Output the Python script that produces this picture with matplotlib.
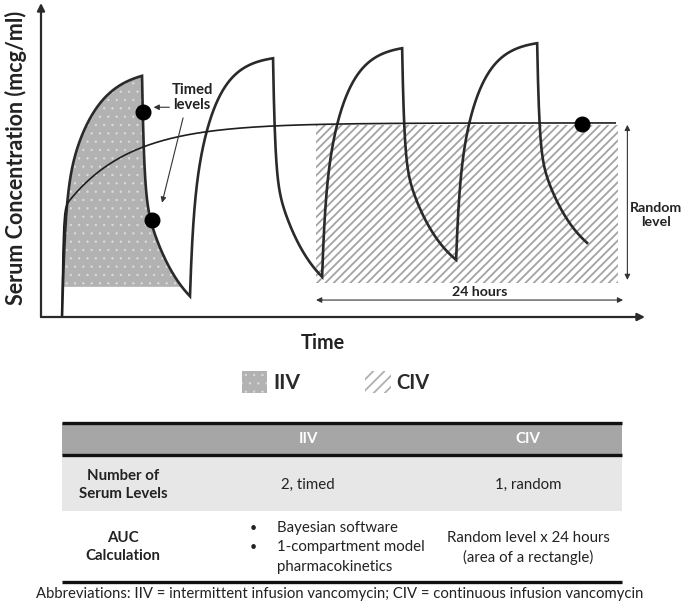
import numpy as np
import matplotlib
matplotlib.use("Agg")
import matplotlib.pyplot as plt
from matplotlib.patches import Rectangle

plt.rcParams['font.family'] = ['Lato', 'DejaVu Sans']

# ---------------- data (hours, mcg/ml) ----------------
dose_start = [1.67, 11.84, 22.34, 32.99]     # infusion start
dose_end = [8.03, 18.44, 28.70, 39.43]       # infusion end (peak)
start_levels = [0.0, 3.3, 6.4, 9.1]          # level at infusion start
peaks = [38.4, 41.2, 42.8, 43.6]             # peak levels
troughs = [3.3, 6.4, 9.1, 11.8]              # level at end of each interval
curve_end = 43.40
rise_fast_frac = [0.45, 0.3, 0.3, 0.3]       # shape of the infusion phase
rise_slow_rate = [0.45, 0.6, 0.6, 0.6]
civ_start = 1.67
civ_steady = 30.9
civ_curve_end = 45.63
timed_t = [8.10, 8.82]
timed_c = [32.6, 15.4]
random_t = [43.0]
random_c = [30.8]
civ_window = [21.86, 24.0]   # start, duration (hours)
civ_level = 30.6
iiv_floor = 4.8
civ_floor = 5.4

legend_labels = ["IIV", "CIV"]
table_header = ["", "IIV", "CIV"]
row_labels = ["Number of\nSerum Levels", "AUC\nCalculation"]
iiv_col = ["2, timed", ["Bayesian software", "1-compartment model\npharmacokinetics"]]
civ_col = ["1, random", "Random level x 24 hours\n(area of a rectangle)"]
footnote = ("Abbreviations: IIV = intermittent infusion vancomycin; "
            "CIV = continuous infusion vancomycin")

# ---------------- figure ----------------
W, H = 685, 605
fig = plt.figure(figsize=(W / 100, H / 100), dpi=100)
ov = fig.add_axes([0, 0, 1, 1], zorder=0)
ov.set_xlim(0, W)
ov.set_ylim(H, 0)
ov.axis('off')

ax = fig.add_axes([41 / W, 1 - 317 / H, 604 / W, 314 / H], zorder=1)
ax.set_xlim(0, 48)
ax.set_ylim(0, 50)
ax.patch.set_alpha(0)
for s in ax.spines.values():
    s.set_visible(False)
ax.set_xticks([])
ax.set_yticks([])

dark = '#2a2a2a'
txt = '#222222'


def rise(dt, T, f, b):
    g = lambda x: 1 - f * np.exp(-4 * x) - (1 - f) * np.exp(-b * x)
    return g(dt) / g(T)


def decay(dt, T):
    g = lambda x: 0.45 * np.exp(-6 * x) + 0.55 * np.exp(-0.35 * x)
    return (g(dt) - g(T)) / (1 - g(T))


ts_all, cs_all = [], []
next_starts = dose_start[1:] + [curve_end]
for i in range(len(dose_start)):
    T1 = dose_end[i] - dose_start[i]
    t1 = np.linspace(0, T1, 300)
    c1 = start_levels[i] + (peaks[i] - start_levels[i]) * rise(
        t1, T1, rise_fast_frac[i], rise_slow_rate[i])
    T2 = next_starts[i] - dose_end[i]
    t2 = np.linspace(0, T2, 300)
    c2 = troughs[i] + (peaks[i] - troughs[i]) * decay(t2, T2)
    ts_all += [dose_start[i] + t1, dose_end[i] + t2]
    cs_all += [c1, c2]
t_iiv = np.concatenate([[dose_start[0]]] + ts_all)
c_iiv = np.concatenate([[0.0]] + cs_all)

# IIV shaded area under first dose (fine white dots on grey)
plt.rcParams['hatch.linewidth'] = 0.4
first = t_iiv <= dose_start[1]
ax.fill_between(t_iiv[first], iiv_floor, c_iiv[first],
                where=c_iiv[first] >= iiv_floor, interpolate=True,
                facecolor='#b2b2b2', edgecolor='#dedede', hatch='..',
                linewidth=0, zorder=1)
leg_iiv = Rectangle((242, 371), 25, 22, facecolor='#b2b2b2',
                    edgecolor='#dedede', hatch='..', linewidth=0)
ov.add_patch(leg_iiv)

# CIV rectangle
plt.rcParams['hatch.linewidth'] = 1.3
ax.bar([civ_window[0]], [civ_level - civ_floor], width=civ_window[1],
       bottom=civ_floor, align='edge', facecolor='white',
       edgecolor='#a3a3a3', hatch='////', linewidth=0, zorder=1)
leg_civ = Rectangle((365, 371), 26, 22, facecolor='white',
                    edgecolor='#b0b0b0', hatch='///', linewidth=0)
ov.add_patch(leg_civ)

ax.plot(t_iiv, c_iiv, color=dark, lw=1.9, zorder=3, solid_joinstyle='miter')

t_civ = np.linspace(civ_start, civ_curve_end, 600)
dt = t_civ - civ_start
c_civ = civ_steady * (1 - 0.55 * np.exp(-12 * dt) - 0.45 * np.exp(-0.2 * dt))
ax.plot(t_civ, c_civ, color='#1e1e1e', lw=1.2, zorder=3)

ax.plot(timed_t, timed_c, 'o', color='black', ms=10.5, zorder=5)
ax.plot(random_t, random_c, 'o', color='black', ms=10.5, zorder=5)

# axes arrows
ap_axis = dict(arrowstyle='-|>', lw=1.6, color=dark, mutation_scale=11,
               shrinkA=0, shrinkB=0)
ax.annotate('', xy=(0, 50), xytext=(0, 0), arrowprops=ap_axis,
            annotation_clip=False)
ax.annotate('', xy=(48, 0), xytext=(0, 0), arrowprops=ap_axis,
            annotation_clip=False)

# annotations
ap_thin = dict(arrowstyle='-|>', lw=0.8, color='#333333', mutation_scale=8,
               shrinkA=0, shrinkB=0)
ax.text(12.0, 34.9, "Timed\nlevels", ha='center', va='center', fontsize=10.6,
        fontweight='bold', color=txt, linespacing=1.1)
ax.annotate('', xy=(8.95, 33.4), xytext=(10.2, 33.4), arrowprops=ap_thin)
ax.annotate('', xy=(9.62, 18.2), xytext=(11.29, 31.7), arrowprops=ap_thin)

ap_dbl = dict(arrowstyle='<|-|>', lw=0.8, color='#333333', mutation_scale=8,
              shrinkA=0, shrinkB=0)
ax.annotate('', xy=(civ_window[0] + civ_window[1] + 0.4, 2.7),
            xytext=(civ_window[0], 2.7), arrowprops=ap_dbl,
            annotation_clip=False)
ax.text(civ_window[0] + civ_window[1] / 2 + 1.0, 4.0, "24 hours",
        ha='center', va='center', fontsize=10.2, fontweight='bold',
        color=txt)
ax.annotate('', xy=(46.6, civ_level), xytext=(46.6, civ_floor + 0.5),
            arrowprops=ap_dbl, annotation_clip=False)
ax.text(48.9, 16.2, "Random\nlevel", ha='center', va='center', fontsize=10.2,
        fontweight='bold', color=txt, linespacing=1.2, clip_on=False)

# axis labels
ov.text(16, 158, "Serum Concentration (mcg/ml)", rotation=90, ha='center',
        va='center', fontsize=15.5, fontweight='bold', color=txt)
ov.text(323, 343, "Time", ha='center', va='center', fontsize=14.3,
        fontweight='bold', color=txt)

# legend text
ov.text(273, 383, legend_labels[0], ha='left', va='center', fontsize=15,
        fontweight='bold', color='#2a2a2a')
ov.text(396, 383, legend_labels[1], ha='left', va='center', fontsize=14.5,
        fontweight='bold', color='#2a2a2a')

# table
tx0, tx1 = 62, 622
col_c = [123, 308, 528]
fs = 10.8
ov.add_patch(Rectangle((tx0, 423), tx1 - tx0, 455 - 423, facecolor='#a6a6a6',
                       edgecolor='none'))
ov.add_patch(Rectangle((tx0, 455), tx1 - tx0, 511 - 455, facecolor='#e7e7e7',
                       edgecolor='none'))
for y in (423, 455, 582):
    ov.plot([tx0, tx1], [y, y], color='#111111', lw=2.4,
            solid_capstyle='butt')
for i, h in enumerate(table_header):
    if h:
        ov.text(col_c[i], 439, h, ha='center', va='center', fontsize=fs,
                fontweight='bold', color='white')
row_y = [485, 547]
for r in range(2):
    ov.text(col_c[0], row_y[r], row_labels[r], ha='center', va='center',
            fontsize=fs, fontweight='bold', color=txt, linespacing=1.3)
ov.text(col_c[1], row_y[0], iiv_col[0], ha='center', va='center',
        fontsize=fs, color=txt)
ov.text(col_c[2], row_y[0], civ_col[0], ha='center', va='center',
        fontsize=fs, color=txt)
bullet_y = [528, 547]
for k, item in enumerate(iiv_col[1]):
    ov.text(253, bullet_y[k], "\u2022", ha='center', va='center', fontsize=9,
            color=txt)
    ov.text(277, bullet_y[k], item.split("\n")[0], ha='left', va='center',
            fontsize=fs, color=txt)
    if "\n" in item:
        ov.text(277, bullet_y[k] + 20, item.split("\n")[1], ha='left',
                va='center', fontsize=fs, color=txt)
civ_lines = civ_col[1].split("\n")
ov.text(col_c[2], 538, civ_lines[0], ha='center', va='center', fontsize=fs,
        color=txt)
ov.text(col_c[2], 557, civ_lines[1], ha='center', va='center', fontsize=fs,
        color=txt)

ov.text(340, 594, footnote, ha='center', va='center', fontsize=10.7,
        color=txt)

fig.savefig("out.png", dpi=100)
